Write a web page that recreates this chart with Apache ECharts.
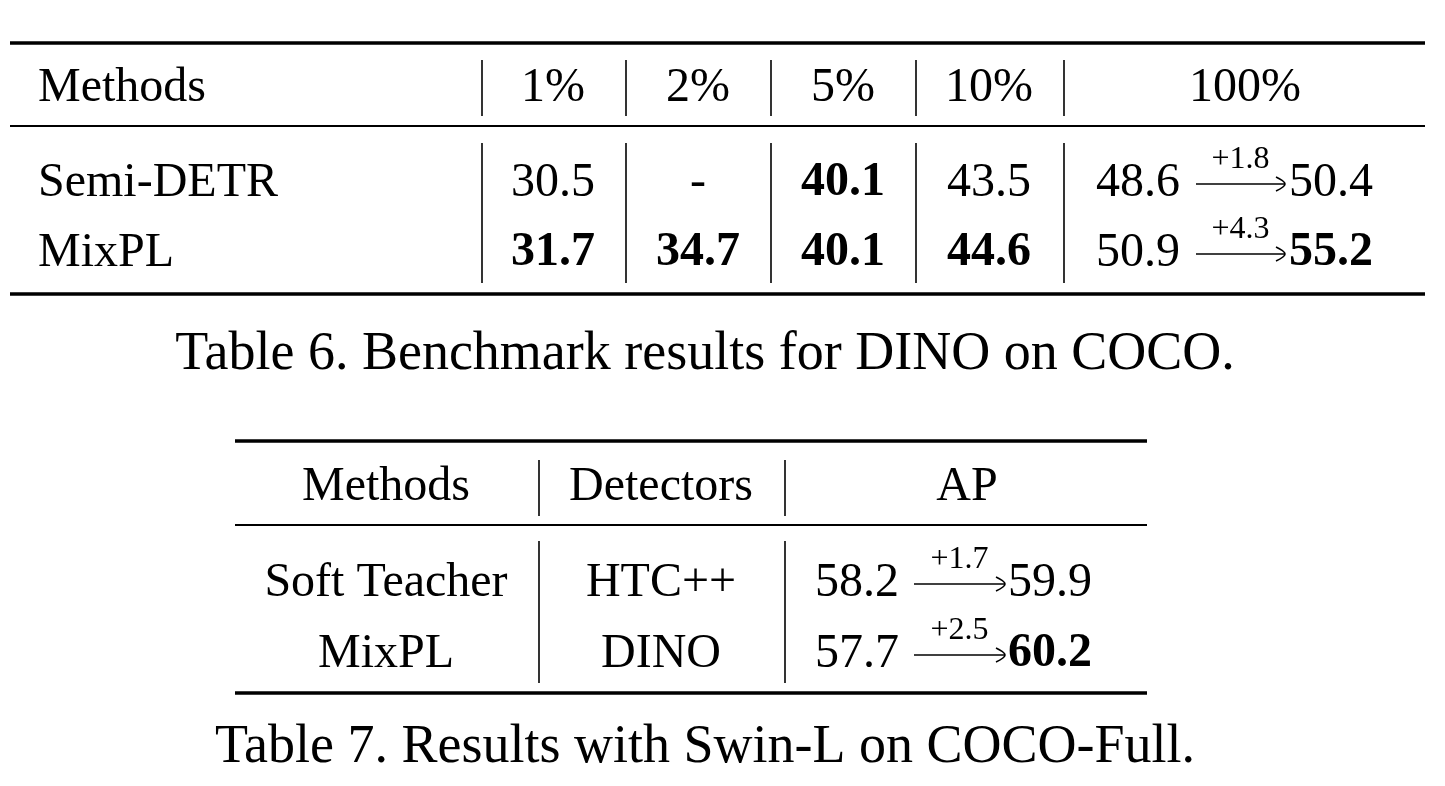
<!DOCTYPE html>
<html>
<head>
<meta charset="utf-8">
<script src="https://cdn.jsdelivr.net/npm/echarts@6/dist/echarts.min.js"></script>
<style>html,body{margin:0;background:#fff}#main{width:1445px;height:786px}</style>
</head>
<body>
<div id="main"></div>
<script>
// Table 6 data
var t6Header=['1%','2%','5%','10%','100%'];
var t6Methods=['Semi-DETR','MixPL'];
var t6Values=[['30.5','-','40.1','43.5'],['31.7','34.7','40.1','44.6']];
var t6Bold=[[false,false,true,false],[true,true,true,true]];
var t6From=['48.6','50.9'];
var t6Gain=['+1.8','+4.3'];
var t6To=['50.4','55.2'];
var t6ToBold=[false,true];
// Table 7 data
var t7Header=['Methods','Detectors','AP'];
var t7Methods=['Soft Teacher','MixPL'];
var t7Detectors=['HTC++','DINO'];
var t7From=['58.2','57.7'];
var t7Gain=['+1.7','+2.5'];
var t7To=['59.9','60.2'];
var t7ToBold=[false,true];

var F='"Liberation Serif","DejaVu Serif",serif';
var els=[];
function txt(s,x,y,align,bold,size){
	els.push({type:'text',x:x,y:y+3,style:{text:s,textAlign:align||'center',textVerticalAlign:'middle',
		font:(bold?'bold ':'')+(size||48)+'px '+F,fill:'#000'}});
}
function line(x1,y1,x2,y2,w){
	els.push({type:'line',shape:{x1:x1,y1:y1,x2:x2,y2:y2},style:{stroke:'#000',lineWidth:w||2}});
}
function arrow(x1,x2,y,label){
	line(x1,y,x2,y,1.6);
	els.push({type:'polyline',shape:{points:[[x2-9,y-7],[x2,y],[x2-9,y+7]],smooth:0.4},style:{stroke:'#000',lineWidth:1.6,fill:null}});
	txt(label,(x1+x2)/2,y-27,'center',false,32);
}

// Table 6
line(10,43,1425,43,3.5);
line(10,126,1425,126,2);
line(10,294,1425,294,3.5);
var t6Sep=[482,626,771,916,1064];
var t6Cx=[553,698,843,989,1245];
t6Sep.forEach(function(x){line(x,60,x,116,1.6);line(x,143,x,283,1.6);});
txt('Methods',38,85,'left');
for(var i=0;i<t6Header.length;i++) txt(t6Header[i],t6Cx[i],85);
var t6Y=[180,250];
for(var r=0;r<2;r++){
	txt(t6Methods[r],38,t6Y[r],'left');
	for(var c=0;c<4;c++) txt(t6Values[r][c],t6Cx[c],t6Y[r],'center',t6Bold[r][c]);
	txt(t6From[r],1180,t6Y[r],'right');
	arrow(1196,1285,t6Y[r]+4,t6Gain[r]);
	txt(t6To[r],1289,t6Y[r],'left',t6ToBold[r]);
}
txt('Table 6. Benchmark results for DINO on COCO.',705,352,'center',false,54);

// Table 7
line(235,441,1147,441,3.5);
line(235,525,1147,525,2);
line(235,693,1147,693,3.5);
[539,785].forEach(function(x){line(x,460,x,516,1.6);line(x,541,x,683,1.6);});
var t7Cx=[386,661,967];
for(var i=0;i<3;i++) txt(t7Header[i],t7Cx[i],484);
var t7Y=[580,651];
for(var r=0;r<2;r++){
	txt(t7Methods[r],386,t7Y[r]);
	txt(t7Detectors[r],661,t7Y[r]);
	txt(t7From[r],899,t7Y[r],'right');
	arrow(914,1005,t7Y[r]+4,t7Gain[r]);
	txt(t7To[r],1008,t7Y[r],'left',t7ToBold[r]);
}
txt('Table 7. Results with Swin-L on COCO-Full.',705,745,'center',false,54);

var myChart=echarts.init(document.getElementById('main'));
myChart.setOption({graphic:{elements:els}});
</script>
</body>
</html>
